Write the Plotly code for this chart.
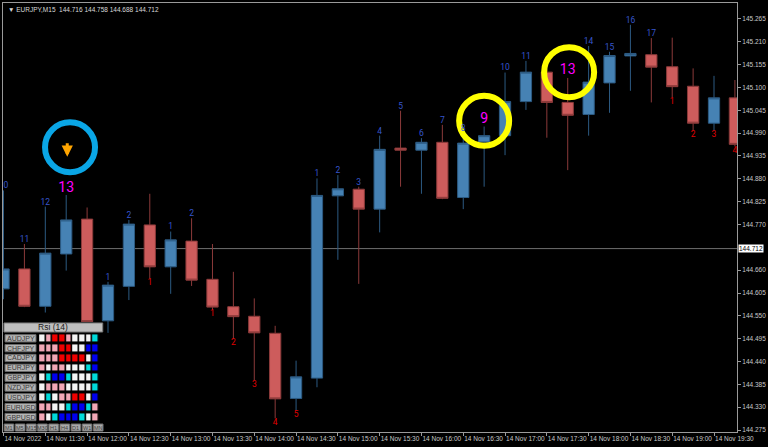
import plotly.graph_objects as go

# ---------------- data ----------------
day = "2022-11-14 "
times = ["11:00", "11:15", "11:30", "11:45", "12:00", "12:15", "12:30", "12:45",
         "13:00", "13:15", "13:30", "13:45", "14:00", "14:15", "14:30", "14:45",
         "15:00", "15:15", "15:30", "15:45", "16:00", "16:15", "16:30", "16:45",
         "17:00", "17:15", "17:30", "17:45", "18:00", "18:15", "18:30", "18:45",
         "19:00", "19:15", "19:30", "19:45"]
opens = [144.615, 144.663, 144.573, 144.699, 144.783, 144.538, 144.621, 144.769,
         144.668, 144.730, 144.638, 144.572, 144.549, 144.508, 144.351, 144.400,
         144.839, 144.855, 144.807, 144.954, 144.949, 144.968, 144.835, 144.969,
         144.984, 145.066, 145.137, 145.064, 145.035, 145.111, 145.176, 145.179,
         145.150, 145.103, 145.014, 145.075]
highs = [144.852, 144.723, 144.813, 144.841, 144.811, 144.632, 144.781, 144.844,
         144.753, 144.785, 144.723, 144.656, 144.592, 144.526, 144.442, 144.881,
         144.889, 144.861, 144.984, 145.044, 144.978, 145.010, 144.990, 145.006,
         145.136, 145.164, 145.174, 145.123, 145.200, 145.186, 145.251, 145.219,
         145.220, 145.146, 145.128, 145.118]
lows = [144.590, 144.571, 144.558, 144.659, 144.502, 144.509, 144.588, 144.639,
        144.603, 144.622, 144.564, 144.494, 144.394, 144.303, 144.321, 144.378,
        144.685, 144.627, 144.751, 144.861, 144.844, 144.831, 144.807, 144.861,
        144.937, 145.046, 144.979, 144.901, 144.984, 145.039, 145.092, 145.064,
        145.076, 144.996, 144.996, 144.958]
closes = [144.663, 144.573, 144.701, 144.781, 144.536, 144.624, 144.771, 144.668,
          144.733, 144.636, 144.571, 144.548, 144.509, 144.350, 144.403, 144.840,
          144.856, 144.807, 144.951, 144.949, 144.968, 144.833, 144.966, 144.984,
          145.066, 145.137, 145.064, 145.033, 145.113, 145.177, 145.182, 145.149,
          145.102, 145.014, 145.075, 144.963]

# setup counts: text and side ("u" above high, "d" below low)
counts = ["10", "11", "12", "13", "", "1", "2", "1", "1", "2", "1", "2", "3", "4", "5",
          "1", "2", "3", "4", "5", "6", "7", "8", "9", "10", "11", "", "13", "14", "15",
          "16", "17", "1", "2", "3", "4"]
sides = ["u", "u", "u", "u", "", "u", "u", "d", "u", "u", "d", "d", "d", "d", "d",
         "u", "u", "u", "u", "u", "u", "u", "u", "u", "u", "u", "", "u", "u", "u",
         "u", "u", "d", "d", "d", "d"]

# signal circles
circle_times = ["11:47:45", "16:45:00", "17:46:00"]
circle_prices = [144.956, 145.020, 145.137]
circle_colors = ["#0AA6E6", "#FFFF00", "#FFFF00"]
arrow_time, arrow_price = "11:45:45", 144.933

ytick_vals = [145.265, 145.210, 145.155, 145.100, 145.045, 144.990, 144.935, 144.880,
              144.825, 144.770, 144.660, 144.605, 144.550, 144.495, 144.440, 144.385,
              144.330, 144.275]
xtick_times = ["11:00", "11:30", "12:00", "12:30", "13:00", "13:30", "14:00", "14:30",
               "15:00", "15:30", "16:00", "16:30", "17:00", "17:30", "18:00", "18:30",
               "19:00", "19:30"]
xtick_text = ["14 Nov 2022"] + ["14 Nov " + t for t in xtick_times[1:]]
last_price = 144.712

# RSI dashboard
rsi_pairs = ["AUDJPY", "CHFJPY", "CADJPY", "EURJPY", "GBPJPY", "NZDJPY", "USDJPY", "EURUSD", "GBPUSD"]
rsi_frames = ["M1", "M5", "M15", "M30", "H1", "H4", "D1", "W1", "MN"]
rsi_states = ["WPRRPWWWC",
              "PPPRRWWBB",
              "PPPRRRRWB",
              "PWPPWWWCB",
              "WCBBCWWWC",
              "WPPPWWWWC",
              "WCWPPRRWB",
              "PPWWCBBCP",
              "PWCBBBCWP"]
state_code = {"W": 0, "P": 1, "R": 2, "C": 3, "B": 4}
state_colors = ["#F4F4F4", "#F2A7B6", "#F00000", "#00DADA", "#0000F0"]

# ---------------- figure ----------------
X = [day + t for t in times]
fig = go.Figure()

fig.add_trace(go.Candlestick(
    x=X, open=opens, high=highs, low=lows, close=closes,
    increasing=dict(fillcolor="#4682B4", line=dict(color="#2C5A82", width=1)),
    decreasing=dict(fillcolor="#CD5C5C", line=dict(color="#8B3A3A", width=1)),
    showlegend=False, hoverinfo="skip"))

# circles (drawn over candles)
fig.add_trace(go.Scatter(
    x=[day + t for t in circle_times], y=circle_prices, mode="markers",
    marker=dict(symbol="circle-open", size=50, color=circle_colors, line=dict(width=6)),
    showlegend=False, hoverinfo="skip", cliponaxis=True))

# counts
def count_trace(sel, ys, pos, color, size):
    idx = [i for i in range(len(times)) if sel(i)]
    return go.Scatter(
        x=[X[i] for i in idx], y=[ys[i] for i in idx], text=[counts[i] for i in idx],
        mode="text", textposition=pos, cliponaxis=True,
        textfont=dict(color=color, size=size, family="Liberation Sans Narrow, Roboto, sans-serif"),
        showlegend=False, hoverinfo="skip")

big = ("9", "13")
fig.add_trace(count_trace(lambda i: sides[i] == "u" and counts[i] not in big, highs,
                          "top center", "#3656CC", 8.5))
fig.add_trace(count_trace(lambda i: sides[i] == "u" and counts[i] in big, highs,
                          "top center", "#FF00FF", 14))
fig.add_trace(count_trace(lambda i: sides[i] == "d", lows, "bottom center", "#E00000", 8.5))

# RSI panel heatmap on its own small axes
z = [[state_code[s] for s in row] for row in rsi_states]
n = len(state_colors)
cs = []
for i, c in enumerate(state_colors):
    cs.append([i / n, c])
    cs.append([(i + 1) / n, c])
fig.add_trace(go.Heatmap(
    z=z, x=list(range(len(rsi_frames))), y=list(range(len(rsi_pairs))),
    zmin=-0.5, zmax=n - 0.5, colorscale=cs, showscale=False, xgap=1.6, ygap=3,
    xaxis="x2", yaxis="y2", hoverinfo="skip"))

shapes = []
annotations = []
# header
shapes.append(dict(type="rect", xref="x2", yref="y2", x0=-5.78, x1=9.03, y0=-1.56, y1=-0.64,
                   fillcolor="#BEBEBE", line=dict(color="#7A7A7A", width=1), layer="above"))
annotations.append(dict(xref="x2", yref="y2", x=1.6, y=-1.1, text="Rsi (14)", showarrow=False,
                        font=dict(size=8.5, color="#202020", family="Liberation Sans")))
# pair labels
for r, p in enumerate(rsi_pairs):
    shapes.append(dict(type="rect", xref="x2", yref="y2", x0=-5.62, x1=-0.98, y0=r - 0.37, y1=r + 0.37,
                       fillcolor="#B4B4B4", line=dict(color="#6A6A6A", width=1), layer="above"))
    annotations.append(dict(xref="x2", yref="y2", x=-3.3, y=r, text=p, showarrow=False,
                            font=dict(size=7, color="#3A3A3A", family="Liberation Sans")))
# timeframe buttons
for i, f in enumerate(rsi_frames):
    cx = (9 + 11.15 * i - 42.5) / 6.667
    shapes.append(dict(type="rect", xref="x2", yref="y2", x0=cx - 0.72, x1=cx + 0.72, y0=8.71, y1=9.42,
                       fillcolor="#A8A8A8", line=dict(color="#707070", width=1), layer="above"))
    annotations.append(dict(xref="x2", yref="y2", x=cx, y=9.07, text=f, showarrow=False,
                            font=dict(size=5.5, color="#404040", family="Liberation Sans")))

# last price line
shapes.append(dict(type="line", xref="paper", yref="y", x0=0, x1=1, y0=last_price, y1=last_price,
                   line=dict(color="#6E6E6E", width=1), layer="below"))
annotations.append(dict(xref="paper", yref="y", x=1, y=last_price, xanchor="left", xshift=1,
                        text="144.712", showarrow=False, bgcolor="#FFFFFF", borderpad=0,
                        font=dict(size=6.5, color="#000000", family="Liberation Sans")))
# title
annotations.append(dict(xref="paper", yref="paper", x=0, y=1, xanchor="left", yanchor="top",
                        xshift=3, yshift=-1,
                        text="▼ EURJPY,M15  144.716 144.758 144.688 144.712", showarrow=False,
                        font=dict(size=6.5, color="#D8D8D8", family="Liberation Sans")))
# sell arrow inside blue circle
annotations.append(dict(xref="x", yref="y", x=day + arrow_time, y=arrow_price, text="",
                        showarrow=True, ax=0, ay=-15, arrowhead=2, arrowsize=0.75,
                        arrowwidth=3, arrowcolor="#FFA500", standoff=0))

axis_font = dict(size=6.5, color="#C8C8C8", family="Liberation Sans")
fig.update_layout(
    width=768, height=447,
    margin=dict(l=3, r=31, t=3, b=15, autoexpand=False),
    paper_bgcolor="#000000", plot_bgcolor="#000000",
    showlegend=False,
    shapes=shapes, annotations=annotations,
    boxgap=0.23,
    xaxis=dict(type="date", range=[day + "10:59:38", day + "19:46:30"],
               rangeslider=dict(visible=False), showgrid=False, zeroline=False,
               showline=True, linecolor="#9A9A9A", linewidth=1, mirror=True,
               tickvals=[day + t for t in xtick_times], ticktext=xtick_text,
               ticks="outside", ticklen=3, tickcolor="#9A9A9A", tickangle=0,
               automargin=False,
               ticklabelposition="outside right", tickfont=axis_font),
    yaxis=dict(range=[144.2702, 145.3035], side="right", showgrid=False, zeroline=False,
               showline=True, linecolor="#9A9A9A", linewidth=1, mirror=True,
               tickvals=ytick_vals, ticktext=["%.3f" % v for v in ytick_vals],
               automargin=False,
               ticks="outside", ticklen=3, tickcolor="#9A9A9A", tickfont=axis_font),
    xaxis2=dict(domain=[0, 0.139], range=[-5.925, 9.375], anchor="y2", visible=False,
                fixedrange=True),
    yaxis2=dict(domain=[0, 0.2564], range=[9.52, -1.657], anchor="x2", visible=False,
                fixedrange=True),
)

fig.write_html("out.html", config={"displayModeBar": False},
               post_script="document.body.style.margin='0px';")
